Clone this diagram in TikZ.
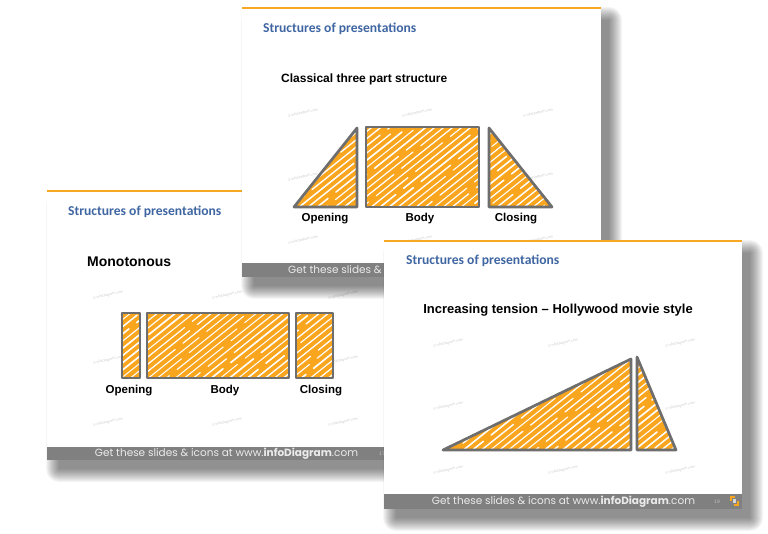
\documentclass[tikz,border=0pt]{standalone}
\usepackage{fontspec}
\setmainfont{Liberation Sans}
\newfontfamily\titlefont{Carlito}
\newfontfamily\barfont{Poppins}
\usetikzlibrary{calc}
\definecolor{hatchorange}{HTML}{F9A51E}
\definecolor{linegray}{HTML}{6E6E6E}
\definecolor{titleblue}{HTML}{3F66A2}
\definecolor{bargray}{HTML}{808080}
\definecolor{topline}{HTML}{F9A825}
\tikzset{
         outline/.style={draw=linegray,line width=2.7pt,line join=round,line cap=round},
         slidetitle/.style={anchor=west,inner sep=0pt,text=titleblue,font=\titlefont\bfseries\fontsize{13.6}{16}\selectfont},
         heading/.style={inner sep=0pt,font=\bfseries\fontsize{12}{14}\selectfont},
         partname/.style={font=\bfseries\fontsize{11.5}{13}\selectfont},
         bartext/.style={text=white!92!black,font=\barfont\fontsize{10.5}{12}\selectfont},
         pagenum/.style={text=white!75!black,font=\fontsize{5}{6}\selectfont},
         wmark/.style={text=black!20,font=\fontsize{3.5}{4}\selectfont,rotate=12}
        }
% soft shadow behind a slide
\newcommand{\slideshadow}[4]{%
 \foreach \i in {0,...,13}
 {
 \fill[black,opacity=.04,rounded corners=\i]({#1+12-\i},{#2+13-\i})rectangle({#3+8+\i},{#4+9+\i});
 }
}
% scribbled orange fill with grey outline
\newcommand{\scribble}[1]{%
 \fill[hatchorange]#1;
 \begin{scope}
 \clip#1;
 \foreach \k in {0,9,...,1470}
 {
 \pgfmathsetmacro{\ph}{int(rnd*95)}
 \pgfmathsetmacro{\lw}{1.0+rnd*0.7}
 \draw[white,line width=\lw pt,line cap=round,dash pattern=on 85pt off 10pt,dash phase=\ph pt]({\k-700},560)--(\k,0);
 }
 \end{scope}
 \draw[outline]#1;
}
\pgfmathsetseed{11}
\begin{document}
\begin{tikzpicture}[x=1pt,y=-1pt]
\useasboundingbox(0,0)rectangle(768,534);
%left slide
\slideshadow{47}{191}{406}{460}
\fill[white](47,191)rectangle(406,460);
\draw[topline,line width=2pt](47,191)--(406,191);
\foreach \wx in {108,227,343}
{
\foreach \wy in {295,360,422}
{
\node[wmark](lwm-\wx-\wy)at(\wx,\wy){\textcopyright\ infoDiagram.com};
}
}
\node[slidetitle](lefttitle)at(68,212){Structures of presentations};
\node[anchor=west,inner sep=0pt,font=\bfseries\fontsize{14}{16}\selectfont](monotonous)at(87,262){Monotonous};
\scribble{(122,313)rectangle(140,378)}
\scribble{(147,313)rectangle(289,378)}
\scribble{(296,313)rectangle(333,378)}
\node[partname](leftopening)at(129,391){Opening};
\node[partname](leftbody)at(225,391){Body};
\node[partname](leftclosing)at(321,391){Closing};
\fill[bargray](47,447)rectangle(406,460);
\node[bartext](leftbar)at(226.5,453.5){Get these slides \& icons at www.\textbf{infoDiagram}.com};
\node[pagenum](leftpage)at(382,453.5){17};
%top slide
\slideshadow{242}{7}{601}{277}
\fill[white](242,7)rectangle(601,277);
\draw[topline,line width=2pt](242,8)--(601,8);
\foreach \wx in {303,417,538}
{
\foreach \wy in {113,177,240}
{
\node[wmark](twm-\wx-\wy)at(\wx,\wy){\textcopyright\ infoDiagram.com};
}
}
\node[slidetitle](toptitle)at(263,29){Structures of presentations};
\node[heading,anchor=west](classical)at(281,79){Classical three part structure};
\scribble{(294,207)--(357,128)--(357,207)--cycle}
\scribble{(366,127)rectangle(479,207)}
\scribble{(489,128)--(489,207)--(552,207)--cycle}
\node[partname](topopening)at(325,219){Opening};
\node[partname](topbody)at(420,219){Body};
\node[partname](topclosing)at(516,219){Closing};
\fill[bargray](242,263)rectangle(601,277);
\node[bartext,anchor=west,inner sep=0pt](topbar)at(288,270){Get these slides \&};
%right slide
\slideshadow{384}{240}{742}{509}
\fill[white](384,240)rectangle(742,509);
\draw[topline,line width=2pt](384,241)--(742,241);
\foreach \wx in {448,563,680}
{
\foreach \wy in {343,406,470}
{
\node[wmark](rwm-\wx-\wy)at(\wx,\wy){\textcopyright\ infoDiagram.com};
}
}
\node[slidetitle](righttitle)at(406,261){Structures of presentations};
\node[font=\bfseries\fontsize{13}{15}\selectfont](hollywood)at(558,310){Increasing tension -- Hollywood movie style};
\scribble{(443,450)--(631,359)--(631,450)--cycle}
\scribble{(637,357)--(637,450)--(676,450)--cycle}
\fill[bargray](384,494)rectangle(742,509);
\node[bartext](rightbar)at(563.5,501.5){Get these slides \& icons at www.\textbf{infoDiagram}.com};
\node[pagenum](rightpage)at(717,502){19};
%logo
\fill[white!85!black](733,499)rectangle(736,503);
\draw[hatchorange,line width=1.6pt](731,501)--(731,497)--(735,497);
\draw[hatchorange,line width=1.6pt](738,501)--(738,505)--(734,505);
\end{tikzpicture}
\end{document}
